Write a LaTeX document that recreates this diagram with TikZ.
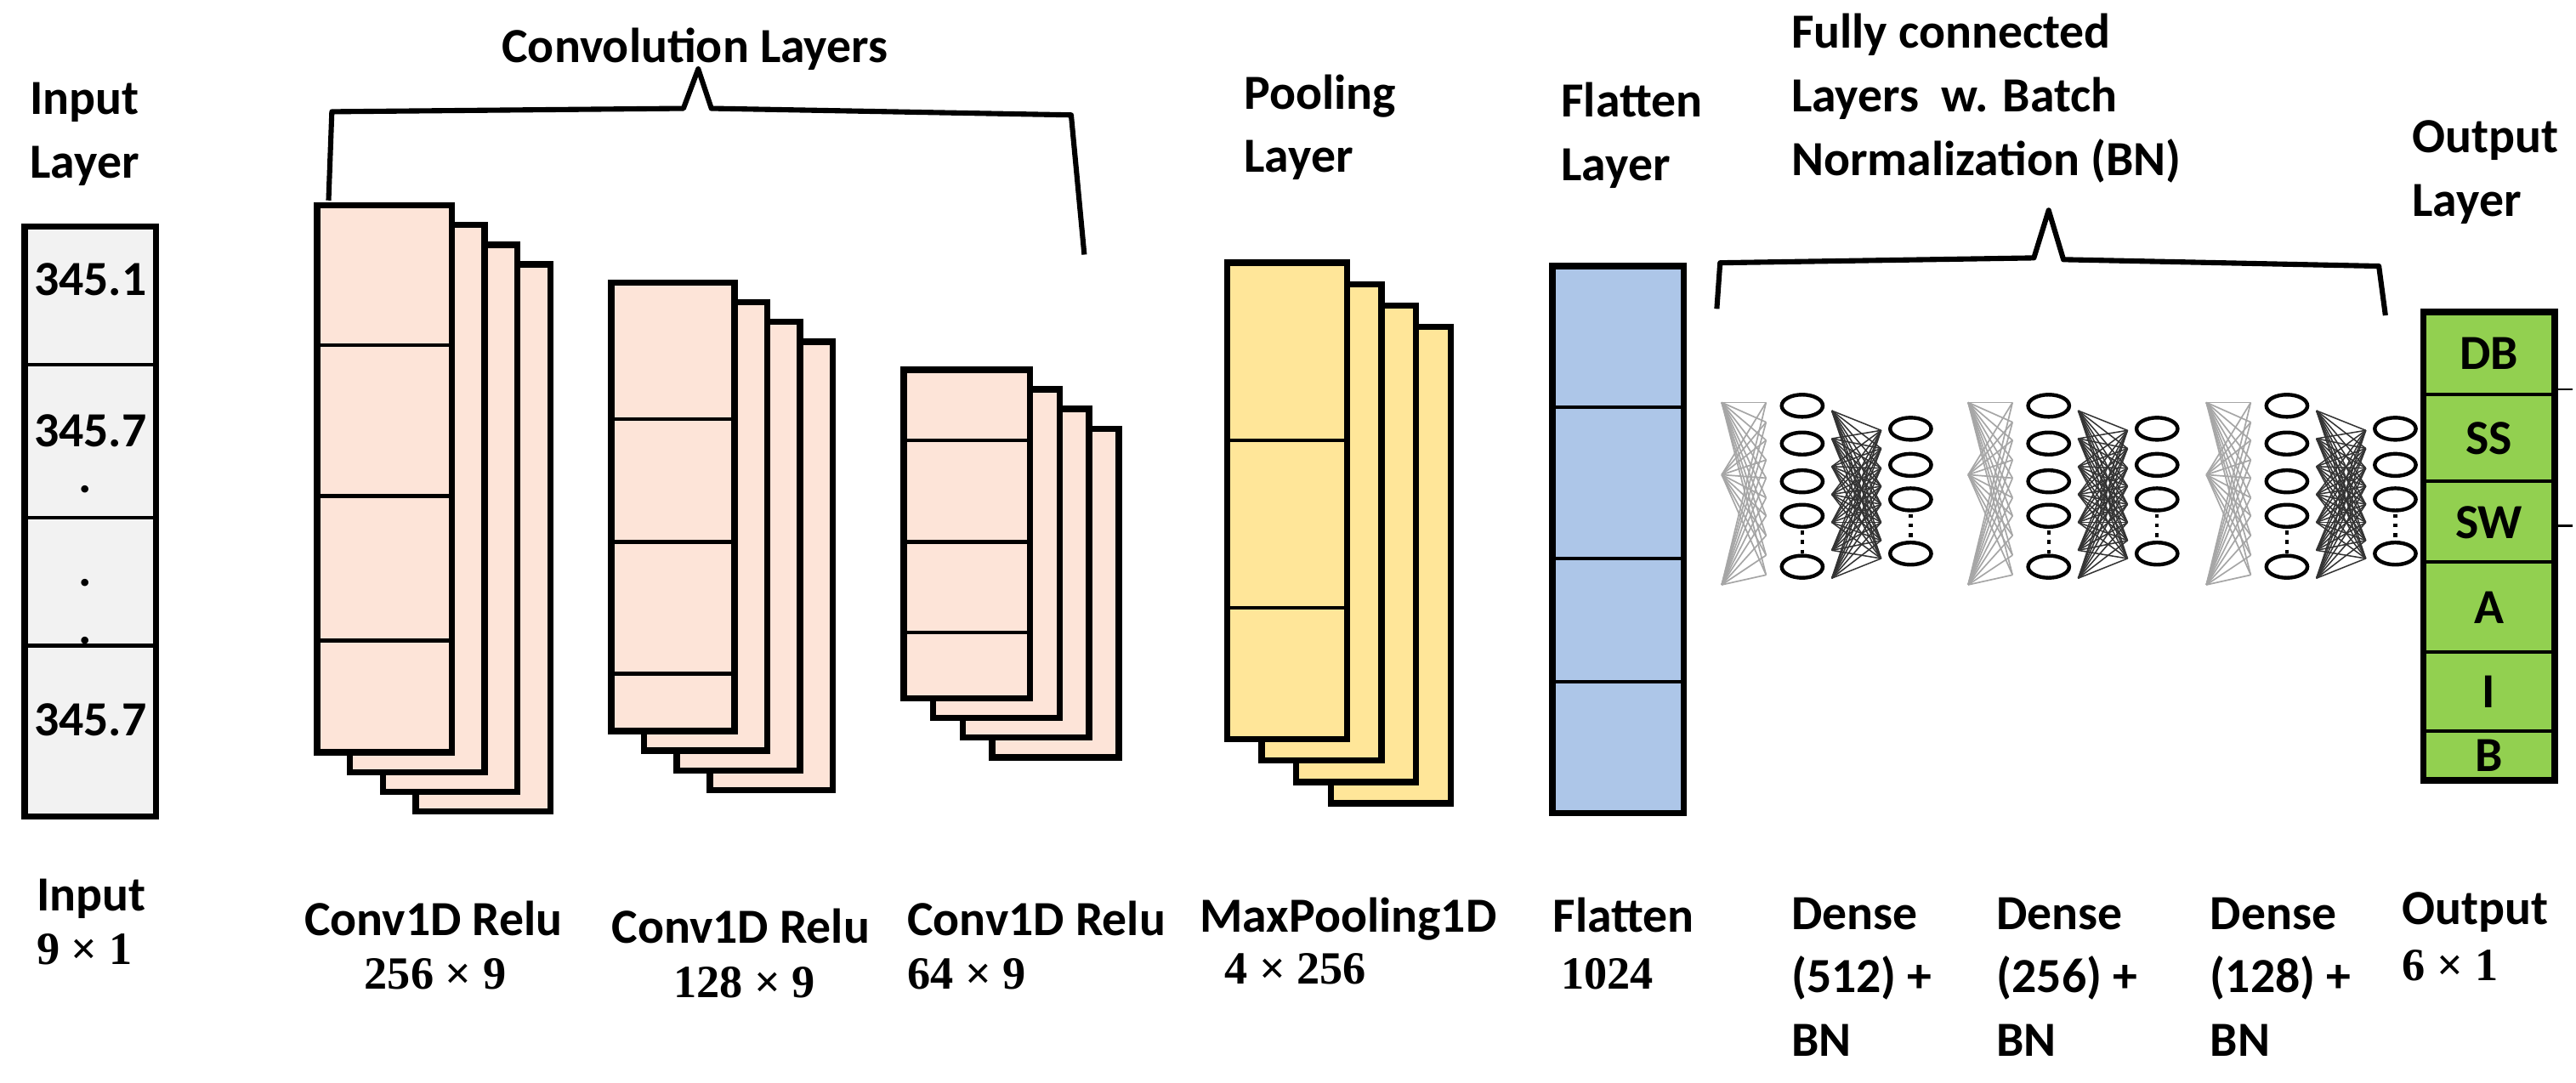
\documentclass[tikz,border=0pt]{standalone}
\usepackage{fontspec}
\usetikzlibrary{shapes.geometric}
\setmainfont{Carlito}
\newfontfamily\numf{Liberation Serif}
\begin{document}
\begin{tikzpicture}[x=0.02cm,y=-0.02cm,
  lab/.style={font=\fontsize{17}{22}\selectfont\bfseries,align=left,inner sep=0pt},
  dim/.style={font=\numf\fontsize{16}{19}\selectfont\bfseries,inner sep=0pt},
  cell/.style={draw=black,line width=2.2pt},
  cv/.style={cell,fill=convc},
  pl/.style={cell,fill=poolc},
  div/.style={line width=1.3pt},
  brace/.style={line width=1.8pt,line join=round},
  el/.style={draw,line width=1.3pt,ellipse,minimum width=0.5cm,minimum height=0.27cm,inner sep=0pt}]
\definecolor{convc}{HTML}{FDE4D8}
\definecolor{poolc}{HTML}{FFE699}
\definecolor{flatc}{HTML}{ADC6E8}
\definecolor{outc}{HTML}{92D050}
\definecolor{inc}{HTML}{F2F2F2}
\useasboundingbox (0,0) rectangle (1568,659);

% Input
\node[lab,anchor=north west] (tin) at (18,50) {Input\\Layer};
\draw[cell,fill=inc] (15,138) rectangle (95,497);
\foreach \y in {222,315,393} \draw[div] (15,\y)--(95,\y);
\node[lab] (i1) at (55,170) {345.1};
\node[lab] (i2) at (55,262) {345.7};
\node[lab] (d1) at (52,298) {.};
\node[lab] (d2) at (52,355) {.};
\node[lab] (d3) at (52,390) {.};
\node[lab] (i4) at (55,438) {345.7};

% Conv stack 1
\foreach \k in {3,2,1} \draw[cv] (193+20*\k,125+12*\k) rectangle (275+20*\k,458+12*\k);
\draw[cv] (193,125) rectangle (275,458);
\foreach \y in {210,302,390} \draw[div] (193,\y)--(275,\y);
% Conv stack 2
\foreach \k in {3,2,1} \draw[cv] (372+20*\k,172+12*\k) rectangle (447+20*\k,445+12*\k);
\draw[cv] (372,172) rectangle (447,445);
\foreach \y in {255,330,410} \draw[div] (372,\y)--(447,\y);
% Conv stack 3
\foreach \k in {3,2,1} \draw[cv] (550+18*\k,225+12*\k) rectangle (627+18*\k,425+12*\k);
\draw[cv] (550,225) rectangle (627,425);
\foreach \y in {268,330,385} \draw[div] (550,\y)--(627,\y);
% Pooling
\foreach \k in {3,2,1} \draw[pl] (747+21*\k,160+13*\k) rectangle (820+21*\k,450+13*\k);
\draw[pl] (747,160) rectangle (820,450);
\foreach \y in {268,370} \draw[div] (747,\y)--(820,\y);
% Flatten
\draw[cell,fill=flatc] (945,162) rectangle (1025,495);
\foreach \y in {248,340,415} \draw[div] (945,\y)--(1025,\y);
% Output
\draw[cell,fill=outc] (1475,190) rectangle (1555,475);
\foreach \y in {240,293,342,397,445} \draw[div] (1475,\y)--(1555,\y);
\draw[line width=0.8pt] (1555,237)--(1566,237) (1555,320)--(1566,320);
\foreach \t/\y in {DB/215,SS/267,SW/318,A/370,I/421,B/460}
  \node[lab] (o\t) at (1515,\y) {\t};

% Braces
\draw[brace] (200,122)--(202,68)--(416,66)--(425,42)--(433,66)--(652,70)--(660,155);
\draw[brace] (1045,188)--(1047,160)--(1238,157)--(1247,128)--(1256,158)--(1448,162)--(1452,192);

% Top labels
\node[lab] (tconv) at (423,30) {Convolution Layers};
\node[lab,anchor=north west] (tpool) at (757,45) {Pooling\\Layer};
\node[lab,anchor=north west] (tflat) at (950,50) {Flatten\\Layer};
\node[lab,anchor=north west] (tfc) at (1090,8) {Fully connected\\Layers\ \ w. Batch\\Normalization (BN)};
\node[lab,anchor=north west] (tout) at (1468,73) {Output\\Layer};

% NN glyphs
\foreach \dx in {0,150,295}{
  \begin{scope}[xshift=\dx*0.02cm]
  \foreach \ly in {245,289,356}
    \foreach \ry in {245,257,268,280,291,303,314,326,338,350}
      \draw[gray!70,line width=0.5pt] (1048,\ly)--(1075,\ry);
  \foreach \ly in {250,267,284,301,318,335,352}
    \foreach \ry in {262,273,285,296,307,318,329,340}
      \draw[black!80,line width=0.45pt] (1115,\ly)--(1145,\ry);
  \foreach \y in {247,270,293,314,345} \node[el] at (1097,\y) {};
  \draw[line width=1.3pt,dotted] (1097,323)--(1097,337);
  \foreach \y in {261,283,304,337} \node[el] at (1163,\y) {};
  \draw[line width=1.3pt,dotted] (1163,313)--(1163,329);
  \end{scope}
}

% Bottom labels
\node[lab,anchor=north west] (bin) at (22,535) {Input};
\node[dim,anchor=north west] (bin2) at (22,568) {9 × 1};
\node[lab,anchor=north west] (bc1) at (185,548) {Conv1D Relu};
\node[dim] (bc1d) at (265,593) {256 × 9};
\node[lab,anchor=north west] (bc2) at (372,553) {Conv1D Relu};
\node[dim] (bc2d) at (453,598) {128 × 9};
\node[lab,anchor=north west] (bc3) at (552,548) {Conv1D Relu};
\node[dim,anchor=west] (bc3d) at (552,593) {64 × 9};
\node[lab,anchor=north west] (bp) at (730,546) {MaxPooling1D};
\node[dim,anchor=west] (bpd) at (745,590) {4 × 256};
\node[lab,anchor=north west] (bf) at (945,546) {Flatten};
\node[dim,anchor=west] (bfd) at (950,593) {1024};
\node[lab,anchor=north west] (bd1) at (1090,546) {Dense\\(512) +\\BN};
\node[lab,anchor=north west] (bd2) at (1215,546) {Dense\\(256) +\\BN};
\node[lab,anchor=north west] (bd3) at (1345,546) {Dense\\(128) +\\BN};
\node[lab,anchor=north west] (bo) at (1462,543) {Output};
\node[dim,anchor=west] (bod) at (1462,588) {6 × 1};
\end{tikzpicture}
\end{document}
